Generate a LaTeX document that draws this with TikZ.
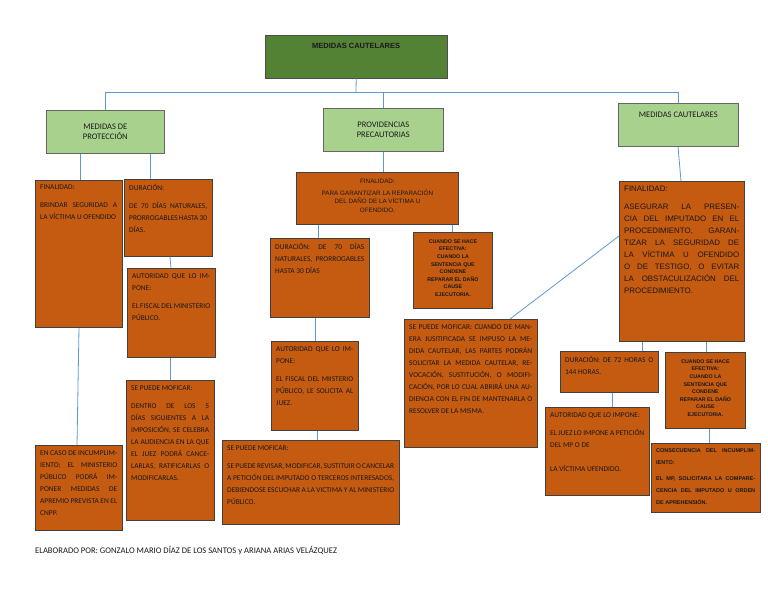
\documentclass[tikz,border=0pt]{standalone}
\usepackage{fontspec}
\setmainfont{Carlito}
\newfontfamily\arial{Liberation Sans}
\definecolor{dgreen}{HTML}{548235}
\definecolor{lgreen}{HTML}{A9D18E}
\definecolor{orng}{HTML}{C55A11}
\definecolor{lblue}{HTML}{5B9BD5}
\definecolor{txt}{HTML}{1A1A1A}
\tikzset{
 obox/.style={draw=black!75, line width=0.9pt, fill=orng, anchor=north west, inner sep=0pt},
 gbox/.style={draw=black!60, line width=0.6pt, fill=lgreen, anchor=north west, inner sep=0pt},
 tx/.style={anchor=north west, inner sep=0pt, align=justify, text=txt},
 ln/.style={draw=lblue, line width=0.8pt}
}
\newcommand{\bx}[7]{%
 \node[obox, minimum width=#4-#2, minimum height=#5-#3] (#1) at (#2,#3) {};
 \node[tx, text width=#4-#2-10] at ([xshift=5pt,yshift=-5pt]#1.north west) {#6#7};}
\begin{document}
\begin{tikzpicture}[x=1pt,y=-1pt]
\useasboundingbox[fill=white] (0,0) rectangle (768,594);
% top
\node[draw=black!70, fill=dgreen, anchor=north west, minimum width=182, minimum height=43, inner sep=0pt] (top) at (265,35) {};
\node[anchor=north, font=\arial\fontsize{7.5}{9}\selectfont\bfseries, text=txt] at ([yshift=-5pt]top.north) {MEDIDAS CAUTELARES};
\node[gbox, minimum width=118, minimum height=43] (g1) at (46,110) {};
\node[font=\fontsize{8.5}{10}\selectfont, align=center, text=txt] at (g1) {MEDIDAS DE\\PROTECCIÓN};
\node[gbox, minimum width=120, minimum height=43] (g2) at (323,108) {};
\node[font=\fontsize{8.5}{10}\selectfont, align=center, text=txt] at (g2) {PROVIDENCIAS\\PRECAUTORIAS};
\node[gbox, minimum width=120, minimum height=43] (g3) at (618,103) {};
\node[anchor=north, font=\fontsize{8.5}{10}\selectfont, text=txt] at ([yshift=-5pt]g3.north) {MEDIDAS CAUTELARES};
\coordinate (hub) at (356,92);
\draw[ln] (top.south) -- (hub);
\draw[ln] (g1.north -| 105,0) -- (105,92) -- (678,92) -- (g3.north -| 678,0);
\draw[ln] (383,92) -- (g2.north -| 383,0);
% left column
\def\fa{\fontsize{7.4}{11.5}\selectfont}
\bx{lf}{35}{180}{122}{327}{\fa}{FINALIDAD:\\[6pt]BRINDAR SEGURIDAD A LA VÍCTIMA U OFENDIDO}
\bx{ld}{124}{179}{212}{256}{\fa}{DURACIÓN:\\[6pt]DE 70 DÍAS NATURALES, PRORROGABLES HASTA 30 DÍAS.}
\bx{la}{127}{268}{215}{357}{\fa}{AUTORIDAD QUE LO IMPONE:\\[6pt]EL FISCAL DEL MINISTERIO PÚBLICO.}
\bx{lm}{126}{380}{214}{520}{\fa}{SE PUEDE MOFICAR:\\[6pt]DENTRO DE LOS 5 DÍAS SIGUIENTES A LA IMPOSICIÓN, SE CELEBRA LA AUDIENCIA EN LA QUE EL JUEZ PODRÁ CANCELARLAS, RATIFICARLAS O MODIFICARLAS.}
\bx{le}{35}{445}{122}{530}{\fontsize{7.4}{11.6}\selectfont}{EN CASO DE INCUMPLIMIENTO; EL MINISTERIO PÚBLICO PODRÁ IMPONER MEDIDAS DE APREMIO PREVISTA EN EL CNPP.}
\draw[ln] (g1.south -| 80,0) -- (lf.north -| 80,0);
\draw[ln] (g1.south -| 150,0) -- (ld.north -| 150,0);
\draw[ln] (lf.south -| 79,0) -- (le.north -| 77,0);
\draw[ln] (ld.south -| 170,0) -- (la.north -| 171,0);
\draw[ln] (la.south -| 170,0) -- (lm.north -| 170,0);
% middle
\node[obox, minimum width=162, minimum height=52] (mf) at (296,172) {};
\node[anchor=north, align=center, font=\arial\fontsize{6.3}{8.4}\selectfont, text=txt] at ([yshift=-4pt]mf.north) {FINALIDAD:\\[3pt]PARA GARANTIZAR LA REPARACIÓN\\DEL DAÑO DE LA VÍCTIMA U\\OFENDIDO.};
\bx{md}{270}{238}{369}{317}{\fa}{DURACIÓN: DE 70 DÍAS NATURALES, PRORROGABLES HASTA 30 DÍAS}
\node[obox, minimum width=79, minimum height=76] (mc) at (413,232) {};
\node[anchor=north, align=center, font=\arial\fontsize{5.3}{7.6}\selectfont\bfseries, text=txt] at ([yshift=-4pt]mc.north) {CUANDO SE HACE\\EFECTIVA:\\CUANDO LA\\SENTENCIA QUE\\CONDENE\\REPARAR EL DAÑO\\CAUSE\\EJECUTORIA.};
\bx{ma}{271}{341}{358}{430}{\fa}{AUTORIDAD QUE LO IMPONE:\\[6pt]EL FISCAL DEL MIISTERIO PÚBLICO, LE SOLICITA AL JUEZ.}
\bx{mm}{222}{440}{399}{524}{\fa}{SE PUEDE MOFICAR:\\[6pt]SE PUEDE REVISAR, MODIFICAR, SUSTITUIR O CANCELAR A PETICIÓN DEL IMPUTADO O TERCEROS INTERESADOS, DEBIENDOSE ESCUCHAR A LA VICTIMA Y AL MINISTERIO PÚBLICO.}
\bx{ms}{404}{319}{537}{447}{\fa}{SE PUEDE MOFICAR: CUANDO DE MANERA JUSITIFICADA SE IMPUSO LA MEDIDA CAUTELAR, LAS PARTES PODRÁN SOLICITAR LA MEDIDA CAUTELAR, REVOCACIÓN, SUSTITUCIÓN, O MODIFICACIÓN, POR LO CUAL ABRIRÁ UNA AUDIENCIA CON EL FIN DE MANTENARLA O RESOLVER DE LA MISMA.}
\draw[ln] (g2.south -| 383,0) -- (mf.north -| 383,0);
\draw[ln] (mf.south -| 318,0) -- (md.north -| 318,0);
\draw[ln] (mf.south -| 452,0) -- (mc.north -| 452,0);
\draw[ln] (md.south -| 315,0) -- (ma.north -| 315,0);
\draw[ln] (ma.south -| 317,0) -- (mm.north -| 317,0);
% right
\bx{rf}{619}{181}{744}{341}{\arial\fontsize{7.9}{10.6}\selectfont}{FINALIDAD:\\[6pt]ASEGURAR LA PRESENCIA DEL IMPUTADO EN EL PROCEDIMIENTO, GARANTIZAR LA SEGURIDAD DE LA VÍCTIMA U OFENDIDO O DE TESTIGO, O EVITAR LA OBSTACULIZACIÓN DEL PROCEDIMIENTO.}
\bx{rd}{560}{351}{658}{392}{\fontsize{7.4}{11.5}\selectfont}{DURACIÓN: DE 72 HORAS O 144 HORAS.}
\node[obox, minimum width=80, minimum height=76] (rc) at (665,352) {};
\node[anchor=north, align=center, font=\arial\fontsize{5.3}{7.6}\selectfont\bfseries, text=txt] at ([yshift=-4pt]rc.north) {CUANDO SE HACE\\EFECTIVA:\\CUANDO LA\\SENTENCIA QUE\\CONDENE\\REPARAR EL DAÑO\\CAUSE\\EJECUTORIA.};
\bx{ra}{545}{407}{649}{495}{\fa}{AUTORIDAD QUE LO IMPONE:\\[6pt]EL JUEZ LO IMPONE A PETICIÓN DEL MP O DE\\[12pt]LA VÍCTIMA UFENDIDO.}
\bx{rn}{651}{443}{760}{512}{\arial\fontsize{5.5}{7.3}\selectfont\bfseries}{CONSECUENCIA DEL INCUMPLIMIENTO:\\[4pt]EL MP, SOLICITARA LA COMPARECENCIA DEL IMPUTADO U ORDEN DE APREHENSIÓN.}
\draw[ln] (g3.south -| 678,0) -- (rf.north -| 681,0);
\draw[ln] (rf.south -| 642,0) -- (rd.north -| 642,0);
\draw[ln] (rf.south -| 706,0) -- (rc.north -| 706,0);
\draw[ln] (rd.south -| 612,0) -- (ra.north -| 612,0);
\draw[ln] (rc.south -| 709,0) -- (rn.north -| 709,0);
\draw[ln] (rf.west |- 0,236) -- (ms.north -| 510,0);
% footer
\node[anchor=west, font=\fontsize{8.6}{10}\selectfont, text=txt, inner sep=0pt] (foot) at (35,551) {ELABORADO POR: GONZALO MARIO DÍAZ DE LOS SANTOS y ARIANA ARIAS VELÁZQUEZ};
\end{tikzpicture}
\end{document}
